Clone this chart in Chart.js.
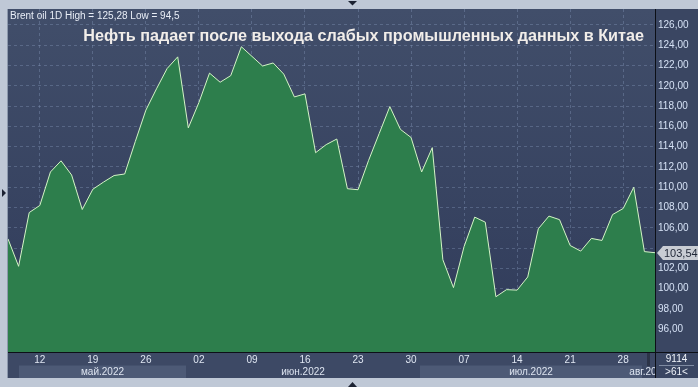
<!DOCTYPE html>
<html>
<head>
<meta charset="utf-8">
<script src="https://cdn.jsdelivr.net/npm/chart.js@4"></script>
<style>
  html, body { margin: 0; padding: 0; background: #bfc8d6; }
  canvas { display: block; }
</style>
</head>
<body>
<canvas id="brentChart" width="698" height="387"></canvas>
<script>
// trading days shown on the chart
var dates = [
  '09.05', '10.05', '11.05', '12.05', '13.05', '16.05', '17.05', '18.05', '19.05', '20.05',
  '23.05', '24.05', '25.05', '26.05', '27.05', '30.05', '31.05',
  '01.06', '02.06', '03.06', '06.06', '07.06', '08.06', '09.06', '10.06', '13.06', '14.06',
  '15.06', '16.06', '17.06', '20.06', '21.06', '22.06', '23.06', '24.06', '27.06', '28.06',
  '29.06', '30.06',
  '01.07', '04.07', '05.07', '06.07', '07.07', '08.07', '11.07', '12.07', '13.07', '14.07',
  '15.07', '18.07', '19.07', '20.07', '21.07', '22.07', '25.07', '26.07', '27.07', '28.07',
  '29.07',
  '01.08', '02.08'
];

var prices = [
  104.9, 102.2, 107.5, 108.2, 111.5, 112.6, 111.2, 107.8, 109.8, 110.5,
  111.15, 111.3, 114.5, 117.6, 119.7, 121.7, 122.85,
  115.85, 118.35, 121.25, 120.35, 121.0, 123.85, 122.9, 121.95, 122.25, 121.15,
  118.9, 119.2, 113.4, 114.2, 114.75, 109.85, 109.75, 112.65, 115.3, 117.95,
  115.7, 114.9,
  111.5, 113.9, 102.85, 100.1, 104.15, 107.05, 106.55, 99.2, 99.9, 99.85,
  101.15, 105.9, 107.15, 106.8, 104.25, 103.7, 104.95, 104.75, 107.3, 107.9,
  110.0,
  103.65, 103.54
];

var priceTicks = [96, 98, 100, 102, 104, 106, 108, 110, 112, 114, 116, 118, 120, 122, 124, 126];
var months = ['май.2022', 'июн.2022', 'июл.2022', 'авг.2022'];
var header = 'Brent oil 1D High = 125,28 Low = 94,5';
var title = 'Нефть падает после выхода слабых промышленных данных в Китае';
var cornerTop = '9114';
var cornerBottom = '>61<';

var lastPrice = prices[prices.length - 1];

function fmt(v) {
  return v.toFixed(2).replace('.', ',');
}

function tri(ctx, pts) {
  ctx.beginPath();
  ctx.moveTo(pts[0], pts[1]);
  ctx.lineTo(pts[2], pts[3]);
  ctx.lineTo(pts[4], pts[5]);
  ctx.closePath();
  ctx.fill();
}

var framePlugin = {
  id: 'frame',
  beforeDraw: function(chart) {
    var ctx = chart.ctx, a = chart.chartArea;
    var xs = chart.scales.x;
    var W = chart.width;
    ctx.save();
    ctx.fillStyle = '#bfc8d6';
    ctx.fillRect(0, 0, W, chart.height);

    var g = ctx.createLinearGradient(0, a.top, 0, a.bottom);
    g.addColorStop(0, '#414e6a');
    g.addColorStop(1, '#303b5a');
    ctx.fillStyle = g;
    ctx.fillRect(a.left, a.top, a.right - a.left, a.bottom - a.top);

    // right price panel
    ctx.fillStyle = '#3a4662';
    ctx.fillRect(a.right, a.top, W - a.right, xs.bottom - a.top);

    // date band
    ctx.fillStyle = '#3d4965';
    ctx.fillRect(a.left, a.bottom, a.right - a.left, xs.bottom - a.bottom);

    // month bands
    var bands = monthBands(chart);
    bands.forEach(function(b, i) {
      if (i % 2 === 0) {
        ctx.fillStyle = '#4d5a76';
        ctx.fillRect(b.x1, a.bottom + 13.5, b.x2 - b.x1, xs.bottom - a.bottom - 13.5);
      }
    });
    ctx.restore();
  },
  afterDraw: function(chart) {
    var ctx = chart.ctx, a = chart.chartArea;
    var xs = chart.scales.x, ys = chart.scales.y;
    var W = chart.width;
    ctx.save();

    // separators
    ctx.strokeStyle = '#0c0f16';
    ctx.lineWidth = 1;
    ctx.beginPath();
    ctx.moveTo(a.right + 0.5, a.top);
    ctx.lineTo(a.right + 0.5, xs.bottom);
    ctx.moveTo(a.left, a.bottom + 0.5);
    ctx.lineTo(W, a.bottom + 0.5);
    ctx.stroke();
    ctx.strokeStyle = '#8d99ad';
    ctx.beginPath();
    ctx.moveTo(a.left - 0.5, a.top);
    ctx.lineTo(a.left - 0.5, xs.bottom);
    ctx.stroke();
    ctx.fillStyle = '#2c3448';
    ctx.fillRect(a.right - 8, a.bottom + 1, 3, 13);

    // month labels
    ctx.save();
    ctx.beginPath();
    ctx.rect(a.left, a.bottom, a.right - a.left, xs.bottom - a.bottom);
    ctx.clip();
    ctx.font = '10px "Liberation Sans"';
    ctx.fillStyle = '#dde4f0';
    ctx.textAlign = 'center';
    ctx.textBaseline = 'middle';
    monthBands(chart).forEach(function(b) {
      ctx.fillText(b.name, (b.x1 + b.x2) / 2, a.bottom + 20.5);
    });
    ctx.restore();

    // header and title
    ctx.textBaseline = 'middle';
    ctx.textAlign = 'left';
    ctx.font = '10px "Liberation Sans"';
    ctx.fillStyle = '#e8edf6';
    ctx.fillText(header, a.left + 2, a.top + 7);
    ctx.textAlign = 'right';
    ctx.font = 'bold 16.2px "Liberation Sans"';
    ctx.fillStyle = '#f1ede9';
    ctx.fillText(title, a.right - 11, a.top + 28);

    // last price tag
    var py = Math.round(ys.getPixelForValue(lastPrice));
    ctx.fillStyle = '#c9cdd4';
    ctx.beginPath();
    ctx.moveTo(a.right + 2, py);
    ctx.lineTo(a.right + 8, py - 7);
    ctx.lineTo(W, py - 7);
    ctx.lineTo(W, py + 7);
    ctx.lineTo(a.right + 8, py + 7);
    ctx.closePath();
    ctx.fill();
    ctx.fillStyle = '#1f2636';
    ctx.textAlign = 'left';
    ctx.font = '11px "Liberation Sans"';
    ctx.fillText(fmt(lastPrice), a.right + 9, py + 0.5);

    // corner box
    var cx = (a.right + W) / 2;
    ctx.fillStyle = '#eef2f8';
    ctx.textAlign = 'center';
    ctx.font = '10px "Liberation Sans"';
    ctx.fillText(cornerTop, cx, a.bottom + 7.5);
    ctx.fillText(cornerBottom, cx, a.bottom + 20.5);
    ctx.strokeStyle = '#7f8ba2';
    ctx.beginPath();
    ctx.moveTo(a.right + 4, a.bottom + 13.5);
    ctx.lineTo(W - 4, a.bottom + 13.5);
    ctx.stroke();

    // frame arrows
    ctx.fillStyle = '#1c2232';
    tri(ctx, [2, 189, 6, 193, 2, 197]);
    tri(ctx, [348, 1, 357, 1, 352.5, 5.5]);
    tri(ctx, [348, 387, 357, 387, 352.5, 382]);
    ctx.restore();
  }
};

function monthBands(chart) {
  var xs = chart.scales.x, a = chart.chartArea;
  var starts = [];
  var prev = null;
  dates.forEach(function(d, i) {
    var m = d.slice(3);
    if (m !== prev) { starts.push(i); prev = m; }
  });
  var out = [];
  for (var k = 0; k < starts.length; k++) {
    var x1 = k === 0 ? xs.getPixelForValue(1) : xs.getPixelForValue(starts[k]) - 2;
    var x2 = k + 1 < starts.length ? xs.getPixelForValue(starts[k + 1]) - 2 : a.right;
    out.push({ name: months[k], x1: Math.round(x1), x2: Math.round(Math.min(x2, a.right)) });
  }
  return out;
}

Chart.defaults.font.family = '"Liberation Sans", Arial, sans-serif';

var ctx = document.getElementById('brentChart').getContext('2d');
var brentChart = new Chart(ctx, {
  type: 'line',
  data: {
    labels: dates,
    datasets: [{
      label: 'Brent oil',
      data: prices,
      borderColor: '#d4f5c6',
      borderWidth: 1,
      backgroundColor: '#2d7e4c',
      fill: 'start',
      pointRadius: 0,
      tension: 0
    }]
  },
  options: {
    responsive: false,
    animation: false,
    layout: { padding: { left: 8, top: 8, right: 0, bottom: 9 } },
    plugins: {
      legend: { display: false },
      tooltip: { enabled: false }
    },
    scales: {
      x: {
        type: 'category',
        offset: false,
        z: 1,
        afterBuildTicks: function(scale) {
          scale.ticks = scale.ticks.filter(function(t) { return t.value % 5 === 3; });
        },
        afterFit: function(scale) { scale.height = 26; },
        grid: {
          color: 'rgba(140, 160, 195, 0.35)',
          drawTicks: false,
          offset: false
        },
        border: { display: false, dash: [3, 3] },
        ticks: {
          autoSkip: false,
          maxRotation: 0,
          padding: 2,
          color: '#dfe6f2',
          font: { size: 10 },
          callback: function(v) { return dates[v].slice(0, 2); }
        }
      },
      y: {
        position: 'right',
        min: 93.75,
        max: 127.57,
        z: 1,
        afterBuildTicks: function(scale) {
          scale.ticks = priceTicks.map(function(v) { return { value: v }; });
        },
        afterFit: function(scale) { scale.width = 43; },
        grid: {
          color: 'rgba(140, 160, 195, 0.35)',
          drawTicks: false
        },
        border: { display: false, dash: [3, 3] },
        ticks: {
          padding: 3,
          color: '#d5e1f5',
          font: { size: 10 },
          callback: function(v) {
            // the last-price tag covers the nearest label
            return Math.abs(v - lastPrice) < 1 ? '' : fmt(v);
          }
        }
      }
    }
  },
  plugins: [framePlugin]
});
</script>
</body>
</html>
